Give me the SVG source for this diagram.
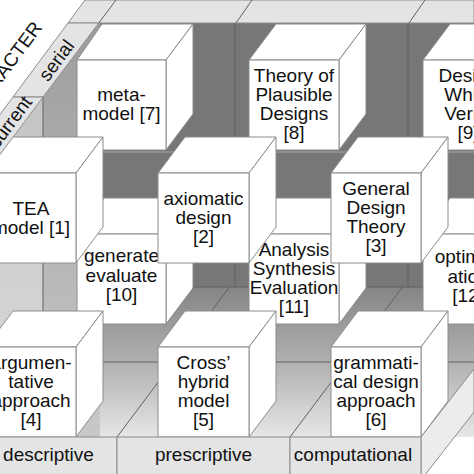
<svg xmlns="http://www.w3.org/2000/svg" width="474" height="474" viewBox="0 0 474 474">
<defs>
<style>
.face{fill:#ffffff;stroke:#8c8c8c;stroke-width:1;stroke-linejoin:round}
.lbl{font-family:"Liberation Sans",Arial,sans-serif;font-size:19px;fill:#111;text-anchor:middle}
.band{fill:#e4e4e4;stroke:#8c8c8c;stroke-width:1}
.wall{fill:#777777}
.ln{stroke:#606060;stroke-width:1;fill:none}
</style>
<linearGradient id="floorLo" x1="0" y1="0" x2="0" y2="1">
<stop offset="0" stop-color="#858585"/>
<stop offset="0.5" stop-color="#b0b0b0"/>
<stop offset="1" stop-color="#e6e6e6"/>
</linearGradient>
<linearGradient id="sideS" x1="0" y1="0" x2="0" y2="1">
<stop offset="0" stop-color="#9c9c9c"/>
<stop offset="0.5" stop-color="#b4b4b4"/>
<stop offset="1" stop-color="#c8c8c8"/>
</linearGradient>
<linearGradient id="sideC" x1="0" y1="0" x2="0" y2="1">
<stop offset="0" stop-color="#c4c4c4"/>
<stop offset="1" stop-color="#dcdcdc"/>
</linearGradient>
</defs>
<rect width="474" height="474" fill="#ffffff"/>
<g id="background">
<rect class="wall" x="100" y="23" width="374" height="270"/>
<rect x="100" y="287" width="374" height="150" fill="url(#floorLo)"/>
<line class="ln" x1="100" y1="362" x2="474" y2="362"/>
<line class="ln" x1="235" y1="23" x2="235" y2="287"/>
<line class="ln" x1="408" y1="23" x2="408" y2="287"/>
<line class="ln" x1="100" y1="287" x2="474" y2="287"/>
<line x1="100" y1="152" x2="474" y2="152" stroke="#8e8e8e" stroke-width="2"/>
<line class="ln" x1="117" y1="437" x2="229.5" y2="287"/>
<line class="ln" x1="290" y1="437" x2="402.5" y2="287"/>
<polygon points="98.75,23 100,23 100,437 43,437 43,97" fill="url(#sideS)"/>
<polygon points="43,97 0,154.7 0,437 43,437" fill="url(#sideC)"/>
<line class="ln" x1="43" y1="97" x2="43" y2="437"/>
<polygon class="band" points="85,0 474,0 474,23 68,23"/>
<line class="ln" x1="252" y1="0" x2="236" y2="23"/>
<line class="ln" x1="425" y1="0" x2="409" y2="23"/>
<line class="ln" x1="116" y1="0" x2="98.75" y2="23"/>
<polygon class="band" points="68,23 98.75,23 43,97 13,97"/>
<polygon class="band" points="13,97 43,97 -12,171 -42,171"/>
<text class="lbl" transform="translate(2,71) rotate(-53.4)" x="0" y="7">CHARACTER</text>
<text class="lbl" transform="translate(56,60) rotate(-53.4)" x="0" y="7">serial</text>
<text class="lbl" transform="translate(0.5,134) rotate(-53.4)" x="0" y="7">concurrent</text>
</g>
<g id="cube7"><polygon class="face" points="77,60 102,24 193,24 166,60"/><polygon class="face" points="166,60 193,24 193,114 166,150"/><rect class="face" x="77" y="60" width="89" height="90"/><text class="lbl" x="121.5" y="101">meta-</text><text class="lbl" x="121.5" y="120">model [7]</text></g>
<g id="cube8"><polygon class="face" points="249,60 276,24 366,24 339,60"/><polygon class="face" points="339,60 366,24 366,114 339,150"/><rect class="face" x="249" y="60" width="90" height="90"/><text class="lbl" x="294" y="82">Theory of</text><text class="lbl" x="294" y="101">Plausible</text><text class="lbl" x="294" y="120">Designs</text><text class="lbl" x="294" y="139">[8]</text></g>
<g id="cube9"><polygon class="face" points="423,60 450,24 540,24 513,60"/><rect class="face" x="423" y="60" width="90" height="90"/><text class="lbl" x="468" y="82">Design</text><text class="lbl" x="468" y="101">While</text><text class="lbl" x="468" y="120">Verify</text><text class="lbl" x="468" y="139">[9]</text></g>
<g id="cube10"><polygon class="face" points="77,234 104,198 193,198 166,234"/><polygon class="face" points="166,234 193,198 193,288 166,324"/><rect class="face" x="77" y="234" width="89" height="90"/><text class="lbl" x="121.5" y="262">generate</text><text class="lbl" x="121.5" y="282">evaluate</text><text class="lbl" x="121.5" y="301">[10]</text></g>
<g id="cube11"><polygon class="face" points="249,234 276,198 366,198 339,234"/><polygon class="face" points="339,234 366,198 366,288 339,324"/><rect class="face" x="249" y="234" width="90" height="90"/><text class="lbl" x="294" y="256">Analysis</text><text class="lbl" x="294" y="275">Synthesis</text><text class="lbl" x="294" y="294">Evaluation</text><text class="lbl" x="294" y="313">[11]</text></g>
<g id="cube12"><polygon class="face" points="423,234 450,198 540,198 513,234"/><rect class="face" x="423" y="234" width="90" height="90"/><text class="lbl" x="468" y="263">optimiz-</text><text class="lbl" x="468" y="283">ation</text><text class="lbl" x="468" y="302">[12]</text></g>
<g id="cube1"><polygon class="face" points="-14,173 13,137 103,137 76,173"/><polygon class="face" points="76,173 103,137 103,227 76,263"/><rect class="face" x="-14" y="173" width="90" height="90"/><text class="lbl" x="31" y="215">TEA</text><text class="lbl" x="31" y="234">model [1]</text></g>
<g id="cube2"><polygon class="face" points="158,173 185,137 276,137 249,173"/><polygon class="face" points="249,173 276,137 276,227 249,263"/><rect class="face" x="158" y="173" width="91" height="90"/><text class="lbl" x="203.5" y="205">axiomatic</text><text class="lbl" x="203.5" y="224">design</text><text class="lbl" x="203.5" y="243">[2]</text></g>
<g id="cube3"><polygon class="face" points="331,173 358,137 448,137 421,173"/><polygon class="face" points="421,173 448,137 448,227 421,263"/><rect class="face" x="331" y="173" width="90" height="90"/><text class="lbl" x="376" y="195">General</text><text class="lbl" x="376" y="214">Design</text><text class="lbl" x="376" y="233">Theory</text><text class="lbl" x="376" y="252">[3]</text></g>
<g id="cube4"><polygon class="face" points="-14,347 13,311 103,311 76,347"/><polygon class="face" points="76,347 103,311 103,401 76,437"/><rect class="face" x="-14" y="347" width="90" height="90"/><text class="lbl" x="31" y="369">argumen-</text><text class="lbl" x="31" y="388">tative</text><text class="lbl" x="31" y="407">approach</text><text class="lbl" x="31" y="426">[4]</text></g>
<g id="cube5"><polygon class="face" points="158,347 185,311 276,311 249,347"/><polygon class="face" points="249,347 276,311 276,401 249,437"/><rect class="face" x="158" y="347" width="91" height="90"/><text class="lbl" x="203.5" y="369">Cross’</text><text class="lbl" x="203.5" y="388">hybrid</text><text class="lbl" x="203.5" y="407">model</text><text class="lbl" x="203.5" y="426">[5]</text></g>
<g id="cube6"><polygon class="face" points="331,347 358,311 448,311 421,347"/><polygon class="face" points="421,347 448,311 448,401 421,437"/><rect class="face" x="331" y="347" width="90" height="90"/><text class="lbl" x="376" y="369">grammati-</text><text class="lbl" x="376" y="388">cal design</text><text class="lbl" x="376" y="407">approach</text><text class="lbl" x="376" y="426">[6]</text></g>
<g id="bottomAxis">
<polygon points="421,437 474,369 474,412 421,480" fill="#ececec" stroke="#8c8c8c" stroke-width="1"/>
<rect class="band" x="-60" y="437" width="177" height="40"/>
<rect class="band" x="117" y="437" width="173" height="40"/>
<rect class="band" x="290" y="437" width="131" height="40"/>
<text class="lbl" x="48.5" y="461">descriptive</text>
<text class="lbl" x="203.5" y="461">prescriptive</text>
<text class="lbl" x="353" y="461">computational</text>
</g>
</svg>
